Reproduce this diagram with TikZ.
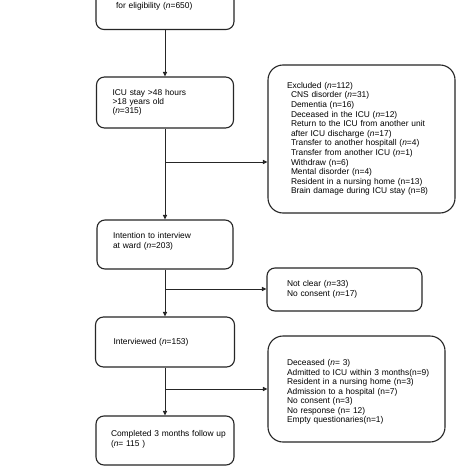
\documentclass[tikz,border=0pt]{standalone}
\usepackage{fontspec}
\setmainfont{Liberation Sans}
\usetikzlibrary{arrows.meta,calc}
\tikzset{
  flowbox/.style={draw=black!85, line width=1.1pt, rounded corners=8pt, align=left,
    font=\fontsize{8.4}{8.9}\selectfont, inner ysep=0pt},
  conn/.style={draw=black!85, line width=1pt},
  arr/.style={conn, -{Triangle[length=4.5pt,width=4pt]}}
}
\newcommand{\nn}{\textit{n}}
\newcommand{\tl}[1]{\mbox{#1}}
\begin{document}
\begin{tikzpicture}[x=1pt,y=-1pt]
\useasboundingbox (0,0) rectangle (474,474);
\clip (0,0) rectangle (474,474);
\fill[white] (0,0) rectangle (474,474);
% left column
\node[flowbox, minimum width=138pt, minimum height=55pt, text width=98pt, inner xsep=20pt] (b1) at (165,2)
  {\vphantom{X}\\\tl{for eligibility (\nn=650)}};
\node[flowbox, minimum width=137pt, minimum height=51pt, text width=105pt, inner xsep=16pt] (b2) at (165,102.5)
  {\tl{ICU stay >48 hours}\\\tl{>18 years old}\\\tl{(\nn=315)}};
\node[flowbox, minimum width=136pt, minimum height=49pt, text width=104pt, inner xsep=16pt,
  font=\fontsize{8.4}{9.9}\selectfont] (b4) at (165,244.5)
  {\tl{Intention to interview}\\\tl{at ward (\nn=203)}\\[-1pt]\vphantom{X}};
\node[flowbox, minimum width=139pt, minimum height=50pt, text width=103pt, inner xsep=18pt] (b6) at (165,342)
  {\tl{Interviewed (\nn=153)}};
\node[flowbox, minimum width=138pt, minimum height=49pt, text width=108pt, inner xsep=15pt,
  font=\fontsize{8.4}{9.9}\selectfont] (b8) at (165,440.5)
  {\tl{Completed 3 months follow up}\\\tl{(\nn= 115 )}\\[-5pt]\vphantom{X}};
% right column
\node[flowbox, rounded corners=15pt, minimum width=187pt, minimum height=148pt, text width=149pt, inner xsep=19pt,
  font=\fontsize{8.4}{9.6}\selectfont] (b3) at (361.5,139)
  {\tl{Excluded (\nn=112)}\\
   \tl{\hspace*{4pt}CNS disorder (\nn=31)}\\
   \tl{\hspace*{4pt}Dementia (n=16)}\\
   \tl{\hspace*{4pt}Deceased in the ICU (\nn=12)}\\
   \tl{\hspace*{4pt}Return to the ICU from another unit}\\
   \tl{\hspace*{4pt}after ICU discharge (\nn=17)}\\
   \tl{\hspace*{4pt}Transfer to another hospitall (\nn=4)}\\
   \tl{\hspace*{4pt}Transfer from another ICU (\nn=1)}\\
   \tl{\hspace*{4pt}Withdraw (n=6)}\\
   \tl{\hspace*{4pt}Mental disorder (n=4)}\\
   \tl{\hspace*{4pt}Resident in a nursing home (n=13)}\\
   \tl{\hspace*{4pt}Brain damage during ICU stay (n=8)}\\[8pt]};
\node[flowbox, minimum width=155pt, minimum height=43pt, text width=115pt, inner xsep=20pt,
  font=\fontsize{8.4}{9.9}\selectfont] (b5) at (344.5,289.5)
  {\tl{Not clear (\nn=33)}\\\tl{No consent (\nn=17)}};
\node[flowbox, rounded corners=15pt, minimum width=177pt, minimum height=106pt, text width=139pt, inner xsep=19pt,
  font=\fontsize{8.4}{9.5}\selectfont] (b7) at (356.5,389)
  {\vphantom{X}\\[-3.5pt]
   \tl{Deceased (\nn= 3)}\\
   \tl{Admitted to ICU within 3 months(n=9)}\\
   \tl{Resident in a nursing home (n=3)}\\
   \tl{Admission to a hospital (n=7)}\\
   \tl{No consent (n=3)}\\
   \tl{No response (n= 12)}\\
   \tl{Empty questionaries(n=1)}};
% junctions
\coordinate (j1) at (165,162);
\coordinate (j2) at (165,289);
\coordinate (j3) at (165,389);
% connectors
\draw[arr] (b1.south) -- (b2.north);
\draw[arr] (b2.south) -- (b4.north);
\draw[arr] (b4.south) -- (b6.north);
\draw[arr] (b6.south) -- (b8.north);
\draw[arr] (j1) -- (j1 -| b3.west);
\draw[arr] (j2) -- (j2 -| b5.west);
\draw[arr] (j3) -- (j3 -| b7.west);
\end{tikzpicture}
\end{document}
